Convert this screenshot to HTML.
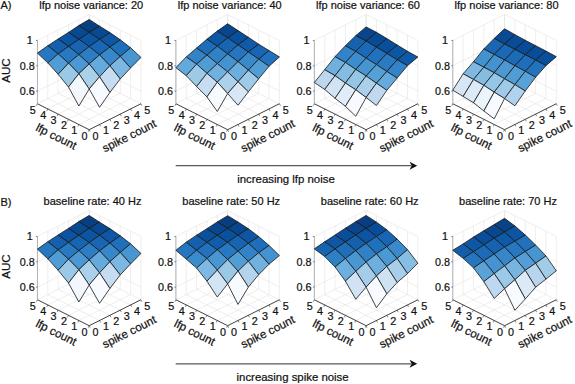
<!DOCTYPE html>
<html><head><meta charset="utf-8"><style>
html,body{margin:0;padding:0;background:#fff;}
svg{display:block;}
text{font-family:"Liberation Sans",sans-serif;fill:#111;stroke:#111;stroke-width:0.22px;}
.tk text{font-size:10.8px;}
.ti{font-size:11px;}
.al{font-size:11.6px;}
.ar{font-size:11.4px;}
</style></head><body>
<svg width="575" height="384" viewBox="0 0 575 384">
<path d="M89.2 129.7L140.95 103.75M89.2 129.7L37.45 103.75M78.85 124.51L130.6 98.56M99.55 124.51L47.8 98.56M68.5 119.32L120.25 93.37M109.9 119.32L58.15 93.37M58.15 114.13L109.9 88.18M120.25 114.13L68.5 88.18M47.8 108.94L99.55 82.99M130.6 108.94L78.85 82.99M37.45 103.75L89.2 77.8M140.95 103.75L89.2 77.8M37.45 103.75L37.45 40.45M140.95 103.75L140.95 40.45M47.8 98.56L47.8 35.26M130.6 98.56L130.6 35.26M58.15 93.37L58.15 30.07M120.25 93.37L120.25 30.07M68.5 88.18L68.5 24.88M109.9 88.18L109.9 24.88M78.85 82.99L78.85 19.69M99.55 82.99L99.55 19.69M89.2 77.8L89.2 14.5M89.2 77.8L89.2 14.5M37.45 91.09L89.2 65.14L140.95 91.09M37.45 65.77L89.2 39.82L140.95 65.77M37.45 40.45L89.2 14.5L140.95 40.45" stroke="#e3e3e3" stroke-width="0.6" fill="none"/>
<path d="M37.45 103.75L89.2 129.7L140.95 103.75" stroke="#333" stroke-width="0.9" fill="none"/>
<path d="M37.45 103.75L37.45 40.45" stroke="#aaa" stroke-width="0.9" fill="none"/>
<path d="M89.2 129.7l-1 2M89.2 129.7l1 2M78.85 124.51l-1 2M99.55 124.51l1 2M68.5 119.32l-1 2M109.9 119.32l1 2M58.15 114.13l-1 2M120.25 114.13l1 2M47.8 108.94l-1 2M130.6 108.94l1 2M37.45 103.75l-1 2M140.95 103.75l1 2M37.45 91.09l-1.5 0M37.45 65.77l-1.5 0M37.45 40.45l-1.5 0" stroke="#333" stroke-width="0.6" fill="none"/>
<path d="M89.2 32.38L78.85 25.55L89.2 19.44L99.55 26.15Z" fill="rgb(8, 63, 131)" stroke="#161616" stroke-width="0.8" stroke-linejoin="round"/>
<path d="M99.55 39.28L89.2 32.38L99.55 26.15L109.9 32.6Z" fill="rgb(8, 73, 146)" stroke="#161616" stroke-width="0.8" stroke-linejoin="round"/>
<path d="M78.85 39.32L68.5 32.4L78.85 25.55L89.2 32.38Z" fill="rgb(8, 73, 146)" stroke="#161616" stroke-width="0.8" stroke-linejoin="round"/>
<path d="M109.9 47.04L99.55 39.28L109.9 32.6L120.25 39.82Z" fill="rgb(13, 87, 165)" stroke="#161616" stroke-width="0.8" stroke-linejoin="round"/>
<path d="M89.2 46.61L78.85 39.32L89.2 32.38L99.55 39.28Z" fill="rgb(11, 85, 163)" stroke="#161616" stroke-width="0.8" stroke-linejoin="round"/>
<path d="M68.5 46.41L58.15 39L68.5 32.4L78.85 39.32Z" fill="rgb(11, 84, 161)" stroke="#161616" stroke-width="0.8" stroke-linejoin="round"/>
<path d="M120.25 56.47L109.9 47.04L120.25 39.82L130.6 47.79Z" fill="rgb(31, 112, 187)" stroke="#161616" stroke-width="0.8" stroke-linejoin="round"/>
<path d="M99.55 54.89L89.2 46.61L99.55 39.28L109.9 47.04Z" fill="rgb(24, 102, 180)" stroke="#161616" stroke-width="0.8" stroke-linejoin="round"/>
<path d="M78.85 54.59L68.5 46.41L78.85 39.32L89.2 46.61Z" fill="rgb(23, 101, 178)" stroke="#161616" stroke-width="0.8" stroke-linejoin="round"/>
<path d="M58.15 53.85L47.8 45.7L58.15 39L68.5 46.41Z" fill="rgb(20, 96, 174)" stroke="#161616" stroke-width="0.8" stroke-linejoin="round"/>
<path d="M130.6 67.92L120.25 56.47L130.6 47.79L140.95 57.41Z" fill="rgb(71, 149, 209)" stroke="#161616" stroke-width="0.8" stroke-linejoin="round"/>
<path d="M109.9 65.73L99.55 54.89L109.9 47.04L120.25 56.47Z" fill="rgb(55, 136, 202)" stroke="#161616" stroke-width="0.8" stroke-linejoin="round"/>
<path d="M89.2 63.89L78.85 54.59L89.2 46.61L99.55 54.89Z" fill="rgb(44, 125, 195)" stroke="#161616" stroke-width="0.8" stroke-linejoin="round"/>
<path d="M68.5 63.15L58.15 53.85L68.5 46.41L78.85 54.59Z" fill="rgb(40, 121, 193)" stroke="#161616" stroke-width="0.8" stroke-linejoin="round"/>
<path d="M47.8 62.86L37.45 53.11L47.8 45.7L58.15 53.85Z" fill="rgb(38, 119, 192)" stroke="#161616" stroke-width="0.8" stroke-linejoin="round"/>
<path d="M120.25 78.94L109.9 65.73L120.25 56.47L130.6 67.92Z" fill="rgb(123, 183, 225)" stroke="#161616" stroke-width="0.8" stroke-linejoin="round"/>
<path d="M99.55 76.84L89.2 63.89L99.55 54.89L109.9 65.73Z" fill="rgb(101, 170, 220)" stroke="#161616" stroke-width="0.8" stroke-linejoin="round"/>
<path d="M78.85 73.7L68.5 63.15L78.85 54.59L89.2 63.89Z" fill="rgb(75, 152, 211)" stroke="#161616" stroke-width="0.8" stroke-linejoin="round"/>
<path d="M58.15 74.25L47.8 62.86L58.15 53.85L68.5 63.15Z" fill="rgb(80, 156, 213)" stroke="#161616" stroke-width="0.8" stroke-linejoin="round"/>
<path d="M109.9 92.48L99.55 76.84L109.9 65.73L120.25 78.94Z" fill="rgb(198, 220, 241)" stroke="#161616" stroke-width="0.8" stroke-linejoin="round"/>
<path d="M89.2 89L78.85 73.7L89.2 63.89L99.55 76.84Z" fill="rgb(170, 208, 234)" stroke="#161616" stroke-width="0.8" stroke-linejoin="round"/>
<path d="M68.5 87.04L58.15 74.25L68.5 63.15L78.85 73.7Z" fill="rgb(153, 201, 230)" stroke="#161616" stroke-width="0.8" stroke-linejoin="round"/>
<path d="M99.55 107.29L89.2 89L99.55 76.84L109.9 92.48Z" fill="rgb(247, 251, 255)" stroke="#161616" stroke-width="0.8" stroke-linejoin="round"/>
<path d="M78.85 106.03L68.5 87.04L78.85 73.7L89.2 89Z" fill="rgb(241, 247, 253)" stroke="#161616" stroke-width="0.8" stroke-linejoin="round"/>
<g class="tk"><text x="84.6" y="139.5" text-anchor="middle">0</text><text x="95.6" y="139.5" text-anchor="middle">0</text><text x="74.25" y="134.31" text-anchor="middle">1</text><text x="105.95" y="134.31" text-anchor="middle">1</text><text x="63.9" y="129.12" text-anchor="middle">2</text><text x="116.3" y="129.12" text-anchor="middle">2</text><text x="53.55" y="123.93" text-anchor="middle">3</text><text x="126.65" y="123.93" text-anchor="middle">3</text><text x="43.2" y="118.74" text-anchor="middle">4</text><text x="137" y="118.74" text-anchor="middle">4</text><text x="32.85" y="113.55" text-anchor="middle">5</text><text x="147.35" y="113.55" text-anchor="middle">5</text><text x="34.65" y="94.89" text-anchor="end">0.6</text><text x="34.65" y="69.57" text-anchor="end">0.8</text><text x="32.65" y="44.25" text-anchor="end">1</text></g>
<text class="al" transform="translate(56.2 136.6) rotate(26.6)" x="0" y="3.8" text-anchor="middle">lfp count</text>
<text class="al" transform="translate(129.3 135.9) rotate(-26.6)" x="0" y="3.8" text-anchor="middle">spike count</text>
<text class="ti" x="91.25" y="9.4" text-anchor="middle">lfp noise variance: 20</text>
<path d="M227.65 129.7L279.4 103.75M227.65 129.7L175.9 103.75M217.3 124.51L269.05 98.56M238 124.51L186.25 98.56M206.95 119.32L258.7 93.37M248.35 119.32L196.6 93.37M196.6 114.13L248.35 88.18M258.7 114.13L206.95 88.18M186.25 108.94L238 82.99M269.05 108.94L217.3 82.99M175.9 103.75L227.65 77.8M279.4 103.75L227.65 77.8M175.9 103.75L175.9 40.45M279.4 103.75L279.4 40.45M186.25 98.56L186.25 35.26M269.05 98.56L269.05 35.26M196.6 93.37L196.6 30.07M258.7 93.37L258.7 30.07M206.95 88.18L206.95 24.88M248.35 88.18L248.35 24.88M217.3 82.99L217.3 19.69M238 82.99L238 19.69M227.65 77.8L227.65 14.5M227.65 77.8L227.65 14.5M175.9 91.09L227.65 65.14L279.4 91.09M175.9 65.77L227.65 39.82L279.4 65.77M175.9 40.45L227.65 14.5L279.4 40.45" stroke="#e3e3e3" stroke-width="0.6" fill="none"/>
<path d="M175.9 103.75L227.65 129.7L279.4 103.75" stroke="#333" stroke-width="0.9" fill="none"/>
<path d="M175.9 103.75L175.9 40.45" stroke="#aaa" stroke-width="0.9" fill="none"/>
<path d="M227.65 129.7l-1 2M227.65 129.7l1 2M217.3 124.51l-1 2M238 124.51l1 2M206.95 119.32l-1 2M248.35 119.32l1 2M196.6 114.13l-1 2M258.7 114.13l1 2M186.25 108.94l-1 2M269.05 108.94l1 2M175.9 103.75l-1 2M279.4 103.75l1 2M175.9 91.09l-1.5 0M175.9 65.77l-1.5 0M175.9 40.45l-1.5 0" stroke="#333" stroke-width="0.6" fill="none"/>
<path d="M227.65 37.82L217.3 31.08L227.65 23.74L238 30.58Z" fill="rgb(8, 70, 141)" stroke="#161616" stroke-width="0.8" stroke-linejoin="round"/>
<path d="M238 44.83L227.65 37.82L238 30.58L248.35 37.29Z" fill="rgb(8, 80, 158)" stroke="#161616" stroke-width="0.8" stroke-linejoin="round"/>
<path d="M217.3 46.12L206.95 39.19L217.3 31.08L227.65 37.82Z" fill="rgb(13, 87, 165)" stroke="#161616" stroke-width="0.8" stroke-linejoin="round"/>
<path d="M248.35 51.97L238 44.83L248.35 37.29L258.7 44.25Z" fill="rgb(16, 91, 169)" stroke="#161616" stroke-width="0.8" stroke-linejoin="round"/>
<path d="M227.65 53.89L217.3 46.12L227.65 37.82L238 44.83Z" fill="rgb(24, 102, 179)" stroke="#161616" stroke-width="0.8" stroke-linejoin="round"/>
<path d="M206.95 55.1L196.6 48.05L206.95 39.19L217.3 46.12Z" fill="rgb(29, 109, 186)" stroke="#161616" stroke-width="0.8" stroke-linejoin="round"/>
<path d="M258.7 59.1L248.35 51.97L258.7 44.25L269.05 50.58Z" fill="rgb(24, 102, 179)" stroke="#161616" stroke-width="0.8" stroke-linejoin="round"/>
<path d="M238 61.64L227.65 53.89L238 44.83L248.35 51.97Z" fill="rgb(37, 117, 191)" stroke="#161616" stroke-width="0.8" stroke-linejoin="round"/>
<path d="M217.3 63.58L206.95 55.1L217.3 46.12L227.65 53.89Z" fill="rgb(48, 129, 198)" stroke="#161616" stroke-width="0.8" stroke-linejoin="round"/>
<path d="M196.6 64.12L186.25 56.91L196.6 48.05L206.95 55.1Z" fill="rgb(51, 132, 199)" stroke="#161616" stroke-width="0.8" stroke-linejoin="round"/>
<path d="M269.05 66.28L258.7 59.1L269.05 50.58L279.4 56.91Z" fill="rgb(33, 114, 189)" stroke="#161616" stroke-width="0.8" stroke-linejoin="round"/>
<path d="M248.35 70.18L238 61.64L248.35 51.97L258.7 59.1Z" fill="rgb(56, 138, 203)" stroke="#161616" stroke-width="0.8" stroke-linejoin="round"/>
<path d="M227.65 71.86L217.3 63.58L227.65 53.89L238 61.64Z" fill="rgb(68, 147, 208)" stroke="#161616" stroke-width="0.8" stroke-linejoin="round"/>
<path d="M206.95 73.33L196.6 64.12L206.95 55.1L217.3 63.58Z" fill="rgb(80, 156, 213)" stroke="#161616" stroke-width="0.8" stroke-linejoin="round"/>
<path d="M186.25 75.64L175.9 67.67L186.25 56.91L196.6 64.12Z" fill="rgb(98, 169, 220)" stroke="#161616" stroke-width="0.8" stroke-linejoin="round"/>
<path d="M258.7 78.81L248.35 70.18L258.7 59.1L269.05 66.28Z" fill="rgb(82, 157, 214)" stroke="#161616" stroke-width="0.8" stroke-linejoin="round"/>
<path d="M238 81.76L227.65 71.86L238 61.64L248.35 70.18Z" fill="rgb(108, 175, 222)" stroke="#161616" stroke-width="0.8" stroke-linejoin="round"/>
<path d="M217.3 82.19L206.95 73.33L217.3 63.58L227.65 71.86Z" fill="rgb(112, 177, 223)" stroke="#161616" stroke-width="0.8" stroke-linejoin="round"/>
<path d="M196.6 86.53L186.25 75.64L196.6 64.12L206.95 73.33Z" fill="rgb(157, 202, 231)" stroke="#161616" stroke-width="0.8" stroke-linejoin="round"/>
<path d="M248.35 91.85L238 81.76L248.35 70.18L258.7 78.81Z" fill="rgb(158, 203, 232)" stroke="#161616" stroke-width="0.8" stroke-linejoin="round"/>
<path d="M227.65 93.54L217.3 82.19L227.65 71.86L238 81.76Z" fill="rgb(173, 209, 235)" stroke="#161616" stroke-width="0.8" stroke-linejoin="round"/>
<path d="M206.95 96.91L196.6 86.53L206.95 73.33L217.3 82.19Z" fill="rgb(199, 221, 241)" stroke="#161616" stroke-width="0.8" stroke-linejoin="round"/>
<path d="M238 105.27L227.65 93.54L238 81.76L248.35 91.85Z" fill="rgb(216, 231, 245)" stroke="#161616" stroke-width="0.8" stroke-linejoin="round"/>
<path d="M217.3 111.47L206.95 96.91L217.3 82.19L227.65 93.54Z" fill="rgb(247, 251, 255)" stroke="#161616" stroke-width="0.8" stroke-linejoin="round"/>
<g class="tk"><text x="223.05" y="139.5" text-anchor="middle">0</text><text x="234.05" y="139.5" text-anchor="middle">0</text><text x="212.7" y="134.31" text-anchor="middle">1</text><text x="244.4" y="134.31" text-anchor="middle">1</text><text x="202.35" y="129.12" text-anchor="middle">2</text><text x="254.75" y="129.12" text-anchor="middle">2</text><text x="192" y="123.93" text-anchor="middle">3</text><text x="265.1" y="123.93" text-anchor="middle">3</text><text x="181.65" y="118.74" text-anchor="middle">4</text><text x="275.45" y="118.74" text-anchor="middle">4</text><text x="171.3" y="113.55" text-anchor="middle">5</text><text x="285.8" y="113.55" text-anchor="middle">5</text><text x="173.1" y="94.89" text-anchor="end">0.6</text><text x="173.1" y="69.57" text-anchor="end">0.8</text><text x="171.1" y="44.25" text-anchor="end">1</text></g>
<text class="al" transform="translate(194.65 136.6) rotate(26.6)" x="0" y="3.8" text-anchor="middle">lfp count</text>
<text class="al" transform="translate(267.75 135.9) rotate(-26.6)" x="0" y="3.8" text-anchor="middle">spike count</text>
<text class="ti" x="229.75" y="9.4" text-anchor="middle">lfp noise variance: 40</text>
<path d="M366.1 129.7L417.85 103.75M366.1 129.7L314.35 103.75M355.75 124.51L407.5 98.56M376.45 124.51L324.7 98.56M345.4 119.32L397.15 93.37M386.8 119.32L335.05 93.37M335.05 114.13L386.8 88.18M397.15 114.13L345.4 88.18M324.7 108.94L376.45 82.99M407.5 108.94L355.75 82.99M314.35 103.75L366.1 77.8M417.85 103.75L366.1 77.8M314.35 103.75L314.35 40.45M417.85 103.75L417.85 40.45M324.7 98.56L324.7 35.26M407.5 98.56L407.5 35.26M335.05 93.37L335.05 30.07M397.15 93.37L397.15 30.07M345.4 88.18L345.4 24.88M386.8 88.18L386.8 24.88M355.75 82.99L355.75 19.69M376.45 82.99L376.45 19.69M366.1 77.8L366.1 14.5M366.1 77.8L366.1 14.5M314.35 91.09L366.1 65.14L417.85 91.09M314.35 65.77L366.1 39.82L417.85 65.77M314.35 40.45L366.1 14.5L417.85 40.45" stroke="#e3e3e3" stroke-width="0.6" fill="none"/>
<path d="M314.35 103.75L366.1 129.7L417.85 103.75" stroke="#333" stroke-width="0.9" fill="none"/>
<path d="M314.35 103.75L314.35 40.45" stroke="#aaa" stroke-width="0.9" fill="none"/>
<path d="M366.1 129.7l-1 2M366.1 129.7l1 2M355.75 124.51l-1 2M376.45 124.51l1 2M345.4 119.32l-1 2M386.8 119.32l1 2M335.05 114.13l-1 2M397.15 114.13l1 2M324.7 108.94l-1 2M407.5 108.94l1 2M314.35 103.75l-1 2M417.85 103.75l1 2M314.35 91.09l-1.5 0M314.35 65.77l-1.5 0M314.35 40.45l-1.5 0" stroke="#333" stroke-width="0.6" fill="none"/>
<path d="M366.1 41.01L355.75 35.64L366.1 26.91L376.45 32.35Z" fill="rgb(8, 69, 140)" stroke="#161616" stroke-width="0.8" stroke-linejoin="round"/>
<path d="M376.45 47.19L366.1 41.01L376.45 32.35L386.8 38.55Z" fill="rgb(8, 74, 149)" stroke="#161616" stroke-width="0.8" stroke-linejoin="round"/>
<path d="M355.75 51.46L345.4 45.77L355.75 35.64L366.1 41.01Z" fill="rgb(21, 98, 175)" stroke="#161616" stroke-width="0.8" stroke-linejoin="round"/>
<path d="M386.8 53.46L376.45 47.19L386.8 38.55L397.15 45.01Z" fill="rgb(8, 80, 158)" stroke="#161616" stroke-width="0.8" stroke-linejoin="round"/>
<path d="M366.1 58.11L355.75 51.46L366.1 41.01L376.45 47.19Z" fill="rgb(27, 106, 183)" stroke="#161616" stroke-width="0.8" stroke-linejoin="round"/>
<path d="M345.4 62.48L335.05 56.66L345.4 45.77L355.75 51.46Z" fill="rgb(50, 131, 199)" stroke="#161616" stroke-width="0.8" stroke-linejoin="round"/>
<path d="M397.15 59.78L386.8 53.46L397.15 45.01L407.5 51.34Z" fill="rgb(12, 86, 164)" stroke="#161616" stroke-width="0.8" stroke-linejoin="round"/>
<path d="M376.45 64.62L366.1 58.11L376.45 47.19L386.8 53.46Z" fill="rgb(33, 113, 188)" stroke="#161616" stroke-width="0.8" stroke-linejoin="round"/>
<path d="M355.75 69.41L345.4 62.48L355.75 51.46L366.1 58.11Z" fill="rgb(60, 141, 205)" stroke="#161616" stroke-width="0.8" stroke-linejoin="round"/>
<path d="M335.05 75.68L324.7 69.7L335.05 56.66L345.4 62.48Z" fill="rgb(111, 176, 222)" stroke="#161616" stroke-width="0.8" stroke-linejoin="round"/>
<path d="M407.5 65.64L397.15 59.78L407.5 51.34L417.85 57.03Z" fill="rgb(15, 90, 168)" stroke="#161616" stroke-width="0.8" stroke-linejoin="round"/>
<path d="M386.8 71.46L376.45 64.62L386.8 53.46L397.15 59.78Z" fill="rgb(42, 123, 194)" stroke="#161616" stroke-width="0.8" stroke-linejoin="round"/>
<path d="M366.1 75.99L355.75 69.41L366.1 58.11L376.45 64.62Z" fill="rgb(70, 149, 209)" stroke="#161616" stroke-width="0.8" stroke-linejoin="round"/>
<path d="M345.4 83.03L335.05 75.68L345.4 62.48L355.75 69.41Z" fill="rgb(133, 189, 226)" stroke="#161616" stroke-width="0.8" stroke-linejoin="round"/>
<path d="M324.7 89.44L314.35 82.48L324.7 69.7L335.05 75.68Z" fill="rgb(189, 215, 239)" stroke="#161616" stroke-width="0.8" stroke-linejoin="round"/>
<path d="M397.15 78.05L386.8 71.46L397.15 59.78L407.5 65.64Z" fill="rgb(50, 131, 199)" stroke="#161616" stroke-width="0.8" stroke-linejoin="round"/>
<path d="M376.45 83.18L366.1 75.99L376.45 64.62L386.8 71.46Z" fill="rgb(85, 160, 215)" stroke="#161616" stroke-width="0.8" stroke-linejoin="round"/>
<path d="M355.75 89.77L345.4 83.03L355.75 69.41L366.1 75.99Z" fill="rgb(149, 198, 229)" stroke="#161616" stroke-width="0.8" stroke-linejoin="round"/>
<path d="M335.05 98.3L324.7 89.44L335.05 75.68L345.4 83.03Z" fill="rgb(210, 227, 244)" stroke="#161616" stroke-width="0.8" stroke-linejoin="round"/>
<path d="M386.8 90.33L376.45 83.18L386.8 71.46L397.15 78.05Z" fill="rgb(101, 171, 221)" stroke="#161616" stroke-width="0.8" stroke-linejoin="round"/>
<path d="M366.1 97.51L355.75 89.77L366.1 75.99L376.45 83.18Z" fill="rgb(170, 208, 234)" stroke="#161616" stroke-width="0.8" stroke-linejoin="round"/>
<path d="M345.4 106.28L335.05 98.3L345.4 83.03L355.75 89.77Z" fill="rgb(224, 236, 248)" stroke="#161616" stroke-width="0.8" stroke-linejoin="round"/>
<path d="M376.45 105.52L366.1 97.51L376.45 83.18L386.8 90.33Z" fill="rgb(193, 217, 240)" stroke="#161616" stroke-width="0.8" stroke-linejoin="round"/>
<path d="M355.75 116.28L345.4 106.28L355.75 89.77L366.1 97.51Z" fill="rgb(247, 251, 255)" stroke="#161616" stroke-width="0.8" stroke-linejoin="round"/>
<g class="tk"><text x="361.5" y="139.5" text-anchor="middle">0</text><text x="372.5" y="139.5" text-anchor="middle">0</text><text x="351.15" y="134.31" text-anchor="middle">1</text><text x="382.85" y="134.31" text-anchor="middle">1</text><text x="340.8" y="129.12" text-anchor="middle">2</text><text x="393.2" y="129.12" text-anchor="middle">2</text><text x="330.45" y="123.93" text-anchor="middle">3</text><text x="403.55" y="123.93" text-anchor="middle">3</text><text x="320.1" y="118.74" text-anchor="middle">4</text><text x="413.9" y="118.74" text-anchor="middle">4</text><text x="309.75" y="113.55" text-anchor="middle">5</text><text x="424.25" y="113.55" text-anchor="middle">5</text><text x="311.55" y="94.89" text-anchor="end">0.6</text><text x="311.55" y="69.57" text-anchor="end">0.8</text><text x="309.55" y="44.25" text-anchor="end">1</text></g>
<text class="al" transform="translate(333.1 136.6) rotate(26.6)" x="0" y="3.8" text-anchor="middle">lfp count</text>
<text class="al" transform="translate(406.2 135.9) rotate(-26.6)" x="0" y="3.8" text-anchor="middle">spike count</text>
<text class="ti" x="368" y="9.4" text-anchor="middle">lfp noise variance: 60</text>
<path d="M504.55 129.7L556.3 103.75M504.55 129.7L452.8 103.75M494.2 124.51L545.95 98.56M514.9 124.51L463.15 98.56M483.85 119.32L535.6 93.37M525.25 119.32L473.5 93.37M473.5 114.13L525.25 88.18M535.6 114.13L483.85 88.18M463.15 108.94L514.9 82.99M545.95 108.94L494.2 82.99M452.8 103.75L504.55 77.8M556.3 103.75L504.55 77.8M452.8 103.75L452.8 40.45M556.3 103.75L556.3 40.45M463.15 98.56L463.15 35.26M545.95 98.56L545.95 35.26M473.5 93.37L473.5 30.07M535.6 93.37L535.6 30.07M483.85 88.18L483.85 24.88M525.25 88.18L525.25 24.88M494.2 82.99L494.2 19.69M514.9 82.99L514.9 19.69M504.55 77.8L504.55 14.5M504.55 77.8L504.55 14.5M452.8 91.09L504.55 65.14L556.3 91.09M452.8 65.77L504.55 39.82L556.3 65.77M452.8 40.45L504.55 14.5L556.3 40.45" stroke="#e3e3e3" stroke-width="0.6" fill="none"/>
<path d="M452.8 103.75L504.55 129.7L556.3 103.75" stroke="#333" stroke-width="0.9" fill="none"/>
<path d="M452.8 103.75L452.8 40.45" stroke="#aaa" stroke-width="0.9" fill="none"/>
<path d="M504.55 129.7l-1 2M504.55 129.7l1 2M494.2 124.51l-1 2M514.9 124.51l1 2M483.85 119.32l-1 2M525.25 119.32l1 2M473.5 114.13l-1 2M535.6 114.13l1 2M463.15 108.94l-1 2M545.95 108.94l1 2M452.8 103.75l-1 2M556.3 103.75l1 2M452.8 91.09l-1.5 0M452.8 65.77l-1.5 0M452.8 40.45l-1.5 0" stroke="#333" stroke-width="0.6" fill="none"/>
<path d="M504.55 43.96L494.2 38.43L504.55 28.81L514.9 34.63Z" fill="rgb(8, 74, 148)" stroke="#161616" stroke-width="0.8" stroke-linejoin="round"/>
<path d="M514.9 49.4L504.55 43.96L514.9 34.63L525.25 40.33Z" fill="rgb(8, 76, 151)" stroke="#161616" stroke-width="0.8" stroke-linejoin="round"/>
<path d="M494.2 54.49L483.85 48.93L494.2 38.43L504.55 43.96Z" fill="rgb(25, 103, 180)" stroke="#161616" stroke-width="0.8" stroke-linejoin="round"/>
<path d="M525.25 54.72L514.9 49.4L525.25 40.33L535.6 45.64Z" fill="rgb(8, 76, 152)" stroke="#161616" stroke-width="0.8" stroke-linejoin="round"/>
<path d="M504.55 60L494.2 54.49L504.55 43.96L514.9 49.4Z" fill="rgb(26, 105, 182)" stroke="#161616" stroke-width="0.8" stroke-linejoin="round"/>
<path d="M483.85 67.21L473.5 61.72L483.85 48.93L494.2 54.49Z" fill="rgb(66, 146, 207)" stroke="#161616" stroke-width="0.8" stroke-linejoin="round"/>
<path d="M535.6 60.08L525.25 54.72L535.6 45.64L545.95 51.08Z" fill="rgb(8, 77, 153)" stroke="#161616" stroke-width="0.8" stroke-linejoin="round"/>
<path d="M514.9 65.7L504.55 60L514.9 49.4L525.25 54.72Z" fill="rgb(28, 107, 185)" stroke="#161616" stroke-width="0.8" stroke-linejoin="round"/>
<path d="M494.2 72.7L483.85 67.21L494.2 54.49L504.55 60Z" fill="rgb(68, 147, 208)" stroke="#161616" stroke-width="0.8" stroke-linejoin="round"/>
<path d="M473.5 79.51L463.15 73.75L473.5 61.72L483.85 67.21Z" fill="rgb(127, 185, 225)" stroke="#161616" stroke-width="0.8" stroke-linejoin="round"/>
<path d="M545.95 65.64L535.6 60.08L545.95 51.08L556.3 56.65Z" fill="rgb(8, 79, 156)" stroke="#161616" stroke-width="0.8" stroke-linejoin="round"/>
<path d="M525.25 71.33L514.9 65.7L525.25 54.72L535.6 60.08Z" fill="rgb(30, 110, 187)" stroke="#161616" stroke-width="0.8" stroke-linejoin="round"/>
<path d="M504.55 78.76L494.2 72.7L504.55 60L514.9 65.7Z" fill="rgb(75, 152, 211)" stroke="#161616" stroke-width="0.8" stroke-linejoin="round"/>
<path d="M483.85 85.32L473.5 79.51L483.85 67.21L494.2 72.7Z" fill="rgb(133, 189, 226)" stroke="#161616" stroke-width="0.8" stroke-linejoin="round"/>
<path d="M463.15 96.41L452.8 90.2L463.15 73.75L473.5 79.51Z" fill="rgb(214, 230, 245)" stroke="#161616" stroke-width="0.8" stroke-linejoin="round"/>
<path d="M535.6 77.29L525.25 71.33L535.6 60.08L545.95 65.64Z" fill="rgb(34, 114, 189)" stroke="#161616" stroke-width="0.8" stroke-linejoin="round"/>
<path d="M514.9 84.62L504.55 78.76L514.9 65.7L525.25 71.33Z" fill="rgb(80, 156, 213)" stroke="#161616" stroke-width="0.8" stroke-linejoin="round"/>
<path d="M494.2 92.13L483.85 85.32L494.2 72.7L504.55 78.76Z" fill="rgb(149, 198, 230)" stroke="#161616" stroke-width="0.8" stroke-linejoin="round"/>
<path d="M473.5 102.74L463.15 96.41L473.5 79.51L483.85 85.32Z" fill="rgb(220, 234, 247)" stroke="#161616" stroke-width="0.8" stroke-linejoin="round"/>
<path d="M525.25 90.96L514.9 84.62L525.25 71.33L535.6 77.29Z" fill="rgb(88, 162, 216)" stroke="#161616" stroke-width="0.8" stroke-linejoin="round"/>
<path d="M504.55 98.6L494.2 92.13L504.55 78.76L514.9 84.62Z" fill="rgb(160, 203, 232)" stroke="#161616" stroke-width="0.8" stroke-linejoin="round"/>
<path d="M483.85 110.96L473.5 102.74L483.85 85.32L494.2 92.13Z" fill="rgb(235, 243, 251)" stroke="#161616" stroke-width="0.8" stroke-linejoin="round"/>
<path d="M514.9 105.77L504.55 98.6L514.9 84.62L525.25 90.96Z" fill="rgb(176, 210, 236)" stroke="#161616" stroke-width="0.8" stroke-linejoin="round"/>
<path d="M494.2 118.81L483.85 110.96L494.2 92.13L504.55 98.6Z" fill="rgb(247, 251, 255)" stroke="#161616" stroke-width="0.8" stroke-linejoin="round"/>
<g class="tk"><text x="499.95" y="139.5" text-anchor="middle">0</text><text x="510.95" y="139.5" text-anchor="middle">0</text><text x="489.6" y="134.31" text-anchor="middle">1</text><text x="521.3" y="134.31" text-anchor="middle">1</text><text x="479.25" y="129.12" text-anchor="middle">2</text><text x="531.65" y="129.12" text-anchor="middle">2</text><text x="468.9" y="123.93" text-anchor="middle">3</text><text x="542" y="123.93" text-anchor="middle">3</text><text x="458.55" y="118.74" text-anchor="middle">4</text><text x="552.35" y="118.74" text-anchor="middle">4</text><text x="448.2" y="113.55" text-anchor="middle">5</text><text x="562.7" y="113.55" text-anchor="middle">5</text><text x="450" y="94.89" text-anchor="end">0.6</text><text x="450" y="69.57" text-anchor="end">0.8</text><text x="448" y="44.25" text-anchor="end">1</text></g>
<text class="al" transform="translate(471.55 136.6) rotate(26.6)" x="0" y="3.8" text-anchor="middle">lfp count</text>
<text class="al" transform="translate(544.65 135.9) rotate(-26.6)" x="0" y="3.8" text-anchor="middle">spike count</text>
<text class="ti" x="506.6" y="9.4" text-anchor="middle">lfp noise variance: 80</text>
<text class="al" transform="translate(6.5 70.6) rotate(-90)" x="0" y="3.8" text-anchor="middle">AUC</text>
<path d="M89.2 325.7L140.95 299.75M89.2 325.7L37.45 299.75M78.85 320.51L130.6 294.56M99.55 320.51L47.8 294.56M68.5 315.32L120.25 289.37M109.9 315.32L58.15 289.37M58.15 310.13L109.9 284.18M120.25 310.13L68.5 284.18M47.8 304.94L99.55 278.99M130.6 304.94L78.85 278.99M37.45 299.75L89.2 273.8M140.95 299.75L89.2 273.8M37.45 299.75L37.45 236.45M140.95 299.75L140.95 236.45M47.8 294.56L47.8 231.26M130.6 294.56L130.6 231.26M58.15 289.37L58.15 226.07M120.25 289.37L120.25 226.07M68.5 284.18L68.5 220.88M109.9 284.18L109.9 220.88M78.85 278.99L78.85 215.69M99.55 278.99L99.55 215.69M89.2 273.8L89.2 210.5M89.2 273.8L89.2 210.5M37.45 287.09L89.2 261.14L140.95 287.09M37.45 261.77L89.2 235.82L140.95 261.77M37.45 236.45L89.2 210.5L140.95 236.45" stroke="#e3e3e3" stroke-width="0.6" fill="none"/>
<path d="M37.45 299.75L89.2 325.7L140.95 299.75" stroke="#333" stroke-width="0.9" fill="none"/>
<path d="M37.45 299.75L37.45 236.45" stroke="#aaa" stroke-width="0.9" fill="none"/>
<path d="M89.2 325.7l-1 2M89.2 325.7l1 2M78.85 320.51l-1 2M99.55 320.51l1 2M68.5 315.32l-1 2M109.9 315.32l1 2M58.15 310.13l-1 2M120.25 310.13l1 2M47.8 304.94l-1 2M130.6 304.94l1 2M37.45 299.75l-1 2M140.95 299.75l1 2M37.45 287.09l-1.5 0M37.45 261.77l-1.5 0M37.45 236.45l-1.5 0" stroke="#333" stroke-width="0.6" fill="none"/>
<path d="M89.2 228.38L78.85 221.55L89.2 215.44L99.55 222.15Z" fill="rgb(8, 63, 131)" stroke="#161616" stroke-width="0.8" stroke-linejoin="round"/>
<path d="M99.55 235.28L89.2 228.38L99.55 222.15L109.9 228.6Z" fill="rgb(8, 73, 146)" stroke="#161616" stroke-width="0.8" stroke-linejoin="round"/>
<path d="M78.85 235.32L68.5 228.4L78.85 221.55L89.2 228.38Z" fill="rgb(8, 73, 146)" stroke="#161616" stroke-width="0.8" stroke-linejoin="round"/>
<path d="M109.9 243.04L99.55 235.28L109.9 228.6L120.25 235.82Z" fill="rgb(13, 87, 165)" stroke="#161616" stroke-width="0.8" stroke-linejoin="round"/>
<path d="M89.2 242.61L78.85 235.32L89.2 228.38L99.55 235.28Z" fill="rgb(11, 85, 163)" stroke="#161616" stroke-width="0.8" stroke-linejoin="round"/>
<path d="M68.5 242.41L58.15 235L68.5 228.4L78.85 235.32Z" fill="rgb(11, 84, 161)" stroke="#161616" stroke-width="0.8" stroke-linejoin="round"/>
<path d="M120.25 252.47L109.9 243.04L120.25 235.82L130.6 243.79Z" fill="rgb(31, 112, 187)" stroke="#161616" stroke-width="0.8" stroke-linejoin="round"/>
<path d="M99.55 250.89L89.2 242.61L99.55 235.28L109.9 243.04Z" fill="rgb(24, 102, 180)" stroke="#161616" stroke-width="0.8" stroke-linejoin="round"/>
<path d="M78.85 250.59L68.5 242.41L78.85 235.32L89.2 242.61Z" fill="rgb(23, 101, 178)" stroke="#161616" stroke-width="0.8" stroke-linejoin="round"/>
<path d="M58.15 249.85L47.8 241.7L58.15 235L68.5 242.41Z" fill="rgb(20, 96, 174)" stroke="#161616" stroke-width="0.8" stroke-linejoin="round"/>
<path d="M130.6 263.92L120.25 252.47L130.6 243.79L140.95 253.41Z" fill="rgb(71, 149, 209)" stroke="#161616" stroke-width="0.8" stroke-linejoin="round"/>
<path d="M109.9 261.73L99.55 250.89L109.9 243.04L120.25 252.47Z" fill="rgb(55, 136, 202)" stroke="#161616" stroke-width="0.8" stroke-linejoin="round"/>
<path d="M89.2 259.89L78.85 250.59L89.2 242.61L99.55 250.89Z" fill="rgb(44, 125, 195)" stroke="#161616" stroke-width="0.8" stroke-linejoin="round"/>
<path d="M68.5 259.15L58.15 249.85L68.5 242.41L78.85 250.59Z" fill="rgb(40, 121, 193)" stroke="#161616" stroke-width="0.8" stroke-linejoin="round"/>
<path d="M47.8 258.86L37.45 249.11L47.8 241.7L58.15 249.85Z" fill="rgb(38, 119, 192)" stroke="#161616" stroke-width="0.8" stroke-linejoin="round"/>
<path d="M120.25 274.94L109.9 261.73L120.25 252.47L130.6 263.92Z" fill="rgb(123, 183, 225)" stroke="#161616" stroke-width="0.8" stroke-linejoin="round"/>
<path d="M99.55 272.84L89.2 259.89L99.55 250.89L109.9 261.73Z" fill="rgb(101, 170, 220)" stroke="#161616" stroke-width="0.8" stroke-linejoin="round"/>
<path d="M78.85 269.7L68.5 259.15L78.85 250.59L89.2 259.89Z" fill="rgb(75, 152, 211)" stroke="#161616" stroke-width="0.8" stroke-linejoin="round"/>
<path d="M58.15 270.25L47.8 258.86L58.15 249.85L68.5 259.15Z" fill="rgb(80, 156, 213)" stroke="#161616" stroke-width="0.8" stroke-linejoin="round"/>
<path d="M109.9 288.48L99.55 272.84L109.9 261.73L120.25 274.94Z" fill="rgb(198, 220, 241)" stroke="#161616" stroke-width="0.8" stroke-linejoin="round"/>
<path d="M89.2 285L78.85 269.7L89.2 259.89L99.55 272.84Z" fill="rgb(170, 208, 234)" stroke="#161616" stroke-width="0.8" stroke-linejoin="round"/>
<path d="M68.5 283.04L58.15 270.25L68.5 259.15L78.85 269.7Z" fill="rgb(153, 201, 230)" stroke="#161616" stroke-width="0.8" stroke-linejoin="round"/>
<path d="M99.55 303.29L89.2 285L99.55 272.84L109.9 288.48Z" fill="rgb(247, 251, 255)" stroke="#161616" stroke-width="0.8" stroke-linejoin="round"/>
<path d="M78.85 302.03L68.5 283.04L78.85 269.7L89.2 285Z" fill="rgb(241, 247, 253)" stroke="#161616" stroke-width="0.8" stroke-linejoin="round"/>
<g class="tk"><text x="84.6" y="335.5" text-anchor="middle">0</text><text x="95.6" y="335.5" text-anchor="middle">0</text><text x="74.25" y="330.31" text-anchor="middle">1</text><text x="105.95" y="330.31" text-anchor="middle">1</text><text x="63.9" y="325.12" text-anchor="middle">2</text><text x="116.3" y="325.12" text-anchor="middle">2</text><text x="53.55" y="319.93" text-anchor="middle">3</text><text x="126.65" y="319.93" text-anchor="middle">3</text><text x="43.2" y="314.74" text-anchor="middle">4</text><text x="137" y="314.74" text-anchor="middle">4</text><text x="32.85" y="309.55" text-anchor="middle">5</text><text x="147.35" y="309.55" text-anchor="middle">5</text><text x="34.65" y="290.89" text-anchor="end">0.6</text><text x="34.65" y="265.57" text-anchor="end">0.8</text><text x="32.65" y="240.25" text-anchor="end">1</text></g>
<text class="al" transform="translate(56.2 332.6) rotate(26.6)" x="0" y="3.8" text-anchor="middle">lfp count</text>
<text class="al" transform="translate(129.3 331.9) rotate(-26.6)" x="0" y="3.8" text-anchor="middle">spike count</text>
<text class="ti" x="92.5" y="205.4" text-anchor="middle">baseline rate: 40 Hz</text>
<path d="M227.65 325.7L279.4 299.75M227.65 325.7L175.9 299.75M217.3 320.51L269.05 294.56M238 320.51L186.25 294.56M206.95 315.32L258.7 289.37M248.35 315.32L196.6 289.37M196.6 310.13L248.35 284.18M258.7 310.13L206.95 284.18M186.25 304.94L238 278.99M269.05 304.94L217.3 278.99M175.9 299.75L227.65 273.8M279.4 299.75L227.65 273.8M175.9 299.75L175.9 236.45M279.4 299.75L279.4 236.45M186.25 294.56L186.25 231.26M269.05 294.56L269.05 231.26M196.6 289.37L196.6 226.07M258.7 289.37L258.7 226.07M206.95 284.18L206.95 220.88M248.35 284.18L248.35 220.88M217.3 278.99L217.3 215.69M238 278.99L238 215.69M227.65 273.8L227.65 210.5M227.65 273.8L227.65 210.5M175.9 287.09L227.65 261.14L279.4 287.09M175.9 261.77L227.65 235.82L279.4 261.77M175.9 236.45L227.65 210.5L279.4 236.45" stroke="#e3e3e3" stroke-width="0.6" fill="none"/>
<path d="M175.9 299.75L227.65 325.7L279.4 299.75" stroke="#333" stroke-width="0.9" fill="none"/>
<path d="M175.9 299.75L175.9 236.45" stroke="#aaa" stroke-width="0.9" fill="none"/>
<path d="M227.65 325.7l-1 2M227.65 325.7l1 2M217.3 320.51l-1 2M238 320.51l1 2M206.95 315.32l-1 2M248.35 315.32l1 2M196.6 310.13l-1 2M258.7 310.13l1 2M186.25 304.94l-1 2M269.05 304.94l1 2M175.9 299.75l-1 2M279.4 299.75l1 2M175.9 287.09l-1.5 0M175.9 261.77l-1.5 0M175.9 236.45l-1.5 0" stroke="#333" stroke-width="0.6" fill="none"/>
<path d="M227.65 228.34L217.3 221.89L227.65 215.69L238 222.02Z" fill="rgb(8, 61, 128)" stroke="#161616" stroke-width="0.8" stroke-linejoin="round"/>
<path d="M238 235.11L227.65 228.34L238 222.02L248.35 228.73Z" fill="rgb(8, 70, 142)" stroke="#161616" stroke-width="0.8" stroke-linejoin="round"/>
<path d="M217.3 235.39L206.95 228.73L217.3 221.89L227.65 228.34Z" fill="rgb(8, 71, 144)" stroke="#161616" stroke-width="0.8" stroke-linejoin="round"/>
<path d="M248.35 243.32L238 235.11L248.35 228.73L258.7 236.58Z" fill="rgb(13, 86, 164)" stroke="#161616" stroke-width="0.8" stroke-linejoin="round"/>
<path d="M227.65 242.32L217.3 235.39L227.65 228.34L238 235.11Z" fill="rgb(9, 81, 159)" stroke="#161616" stroke-width="0.8" stroke-linejoin="round"/>
<path d="M206.95 242.35L196.6 235.19L206.95 228.73L217.3 235.39Z" fill="rgb(9, 81, 159)" stroke="#161616" stroke-width="0.8" stroke-linejoin="round"/>
<path d="M258.7 252.71L248.35 243.32L258.7 236.58L269.05 245.44Z" fill="rgb(30, 110, 187)" stroke="#161616" stroke-width="0.8" stroke-linejoin="round"/>
<path d="M238 251.11L227.65 242.32L238 235.11L248.35 243.32Z" fill="rgb(23, 101, 178)" stroke="#161616" stroke-width="0.8" stroke-linejoin="round"/>
<path d="M217.3 249.75L206.95 242.35L217.3 235.39L227.65 242.32Z" fill="rgb(18, 93, 171)" stroke="#161616" stroke-width="0.8" stroke-linejoin="round"/>
<path d="M196.6 250.27L186.25 242.15L196.6 235.19L206.95 242.35Z" fill="rgb(20, 96, 174)" stroke="#161616" stroke-width="0.8" stroke-linejoin="round"/>
<path d="M269.05 264.17L258.7 252.71L269.05 245.44L279.4 255.57Z" fill="rgb(68, 147, 208)" stroke="#161616" stroke-width="0.8" stroke-linejoin="round"/>
<path d="M248.35 261.33L238 251.11L248.35 243.32L258.7 252.71Z" fill="rgb(49, 131, 199)" stroke="#161616" stroke-width="0.8" stroke-linejoin="round"/>
<path d="M227.65 259.54L217.3 249.75L227.65 242.32L238 251.11Z" fill="rgb(39, 120, 192)" stroke="#161616" stroke-width="0.8" stroke-linejoin="round"/>
<path d="M206.95 258.57L196.6 250.27L206.95 242.35L217.3 249.75Z" fill="rgb(34, 114, 189)" stroke="#161616" stroke-width="0.8" stroke-linejoin="round"/>
<path d="M186.25 259.11L175.9 250.25L186.25 242.15L196.6 250.27Z" fill="rgb(37, 117, 191)" stroke="#161616" stroke-width="0.8" stroke-linejoin="round"/>
<path d="M258.7 274.68L248.35 261.33L258.7 252.71L269.05 264.17Z" fill="rgb(112, 177, 223)" stroke="#161616" stroke-width="0.8" stroke-linejoin="round"/>
<path d="M238 271.09L227.65 259.54L238 251.11L248.35 261.33Z" fill="rgb(81, 157, 213)" stroke="#161616" stroke-width="0.8" stroke-linejoin="round"/>
<path d="M217.3 270.09L206.95 258.57L217.3 249.75L227.65 259.54Z" fill="rgb(73, 151, 210)" stroke="#161616" stroke-width="0.8" stroke-linejoin="round"/>
<path d="M196.6 268.1L186.25 259.11L196.6 250.27L206.95 258.57Z" fill="rgb(58, 140, 204)" stroke="#161616" stroke-width="0.8" stroke-linejoin="round"/>
<path d="M248.35 287.09L238 271.09L248.35 261.33L258.7 274.68Z" fill="rgb(180, 212, 237)" stroke="#161616" stroke-width="0.8" stroke-linejoin="round"/>
<path d="M227.65 283.9L217.3 270.09L227.65 259.54L238 271.09Z" fill="rgb(154, 201, 230)" stroke="#161616" stroke-width="0.8" stroke-linejoin="round"/>
<path d="M206.95 281.14L196.6 268.1L206.95 258.57L217.3 270.09Z" fill="rgb(126, 185, 225)" stroke="#161616" stroke-width="0.8" stroke-linejoin="round"/>
<path d="M238 304.43L227.65 283.9L238 271.09L248.35 287.09Z" fill="rgb(247, 251, 255)" stroke="#161616" stroke-width="0.8" stroke-linejoin="round"/>
<path d="M217.3 297.09L206.95 281.14L217.3 270.09L227.65 283.9Z" fill="rgb(211, 228, 244)" stroke="#161616" stroke-width="0.8" stroke-linejoin="round"/>
<g class="tk"><text x="223.05" y="335.5" text-anchor="middle">0</text><text x="234.05" y="335.5" text-anchor="middle">0</text><text x="212.7" y="330.31" text-anchor="middle">1</text><text x="244.4" y="330.31" text-anchor="middle">1</text><text x="202.35" y="325.12" text-anchor="middle">2</text><text x="254.75" y="325.12" text-anchor="middle">2</text><text x="192" y="319.93" text-anchor="middle">3</text><text x="265.1" y="319.93" text-anchor="middle">3</text><text x="181.65" y="314.74" text-anchor="middle">4</text><text x="275.45" y="314.74" text-anchor="middle">4</text><text x="171.3" y="309.55" text-anchor="middle">5</text><text x="285.8" y="309.55" text-anchor="middle">5</text><text x="173.1" y="290.89" text-anchor="end">0.6</text><text x="173.1" y="265.57" text-anchor="end">0.8</text><text x="171.1" y="240.25" text-anchor="end">1</text></g>
<text class="al" transform="translate(194.65 332.6) rotate(26.6)" x="0" y="3.8" text-anchor="middle">lfp count</text>
<text class="al" transform="translate(267.75 331.9) rotate(-26.6)" x="0" y="3.8" text-anchor="middle">spike count</text>
<text class="ti" x="231.2" y="205.4" text-anchor="middle">baseline rate: 50 Hz</text>
<path d="M366.1 325.7L417.85 299.75M366.1 325.7L314.35 299.75M355.75 320.51L407.5 294.56M376.45 320.51L324.7 294.56M345.4 315.32L397.15 289.37M386.8 315.32L335.05 289.37M335.05 310.13L386.8 284.18M397.15 310.13L345.4 284.18M324.7 304.94L376.45 278.99M407.5 304.94L355.75 278.99M314.35 299.75L366.1 273.8M417.85 299.75L366.1 273.8M314.35 299.75L314.35 236.45M417.85 299.75L417.85 236.45M324.7 294.56L324.7 231.26M407.5 294.56L407.5 231.26M335.05 289.37L335.05 226.07M397.15 289.37L397.15 226.07M345.4 284.18L345.4 220.88M386.8 284.18L386.8 220.88M355.75 278.99L355.75 215.69M376.45 278.99L376.45 215.69M366.1 273.8L366.1 210.5M366.1 273.8L366.1 210.5M314.35 287.09L366.1 261.14L417.85 287.09M314.35 261.77L366.1 235.82L417.85 261.77M314.35 236.45L366.1 210.5L417.85 236.45" stroke="#e3e3e3" stroke-width="0.6" fill="none"/>
<path d="M314.35 299.75L366.1 325.7L417.85 299.75" stroke="#333" stroke-width="0.9" fill="none"/>
<path d="M314.35 299.75L314.35 236.45" stroke="#aaa" stroke-width="0.9" fill="none"/>
<path d="M366.1 325.7l-1 2M366.1 325.7l1 2M355.75 320.51l-1 2M376.45 320.51l1 2M345.4 315.32l-1 2M386.8 315.32l1 2M335.05 310.13l-1 2M397.15 310.13l1 2M324.7 304.94l-1 2M407.5 304.94l1 2M314.35 299.75l-1 2M417.85 299.75l1 2M314.35 287.09l-1.5 0M314.35 261.77l-1.5 0M314.35 236.45l-1.5 0" stroke="#333" stroke-width="0.6" fill="none"/>
<path d="M366.1 228.47L355.75 221.64L366.1 215.44L376.45 222.15Z" fill="rgb(8, 62, 129)" stroke="#161616" stroke-width="0.8" stroke-linejoin="round"/>
<path d="M376.45 236.54L366.1 228.47L376.45 222.15L386.8 229.74Z" fill="rgb(8, 77, 153)" stroke="#161616" stroke-width="0.8" stroke-linejoin="round"/>
<path d="M355.75 234.99L345.4 228.22L355.75 221.64L366.1 228.47Z" fill="rgb(8, 69, 140)" stroke="#161616" stroke-width="0.8" stroke-linejoin="round"/>
<path d="M386.8 246.69L376.45 236.54L386.8 229.74L397.15 239.11Z" fill="rgb(24, 102, 179)" stroke="#161616" stroke-width="0.8" stroke-linejoin="round"/>
<path d="M366.1 243.27L355.75 234.99L366.1 228.47L376.45 236.54Z" fill="rgb(11, 85, 162)" stroke="#161616" stroke-width="0.8" stroke-linejoin="round"/>
<path d="M345.4 241.92L335.05 235.06L345.4 228.22L355.75 234.99Z" fill="rgb(8, 78, 154)" stroke="#161616" stroke-width="0.8" stroke-linejoin="round"/>
<path d="M397.15 258.47L386.8 246.69L397.15 239.11L407.5 249.62Z" fill="rgb(56, 138, 203)" stroke="#161616" stroke-width="0.8" stroke-linejoin="round"/>
<path d="M376.45 253.86L366.1 243.27L376.45 236.54L386.8 246.69Z" fill="rgb(32, 113, 188)" stroke="#161616" stroke-width="0.8" stroke-linejoin="round"/>
<path d="M355.75 250.66L345.4 241.92L355.75 234.99L366.1 243.27Z" fill="rgb(20, 96, 173)" stroke="#161616" stroke-width="0.8" stroke-linejoin="round"/>
<path d="M335.05 248.97L324.7 241.77L335.05 235.06L345.4 241.92Z" fill="rgb(13, 87, 165)" stroke="#161616" stroke-width="0.8" stroke-linejoin="round"/>
<path d="M407.5 273.54L397.15 258.47L407.5 249.62L417.85 263.16Z" fill="rgb(135, 190, 227)" stroke="#161616" stroke-width="0.8" stroke-linejoin="round"/>
<path d="M386.8 266.45L376.45 253.86L386.8 246.69L397.15 258.47Z" fill="rgb(75, 153, 211)" stroke="#161616" stroke-width="0.8" stroke-linejoin="round"/>
<path d="M366.1 262.08L355.75 250.66L366.1 243.27L376.45 253.86Z" fill="rgb(48, 129, 198)" stroke="#161616" stroke-width="0.8" stroke-linejoin="round"/>
<path d="M345.4 258.55L335.05 248.97L345.4 241.92L355.75 250.66Z" fill="rgb(30, 110, 186)" stroke="#161616" stroke-width="0.8" stroke-linejoin="round"/>
<path d="M324.7 256.45L314.35 248.86L324.7 241.77L335.05 248.97Z" fill="rgb(22, 99, 176)" stroke="#161616" stroke-width="0.8" stroke-linejoin="round"/>
<path d="M397.15 282.53L386.8 266.45L397.15 258.47L407.5 273.54Z" fill="rgb(168, 207, 234)" stroke="#161616" stroke-width="0.8" stroke-linejoin="round"/>
<path d="M376.45 276L366.1 262.08L376.45 253.86L386.8 266.45Z" fill="rgb(109, 175, 222)" stroke="#161616" stroke-width="0.8" stroke-linejoin="round"/>
<path d="M355.75 271.26L345.4 258.55L355.75 250.66L366.1 262.08Z" fill="rgb(73, 151, 210)" stroke="#161616" stroke-width="0.8" stroke-linejoin="round"/>
<path d="M335.05 266.96L324.7 256.45L335.05 248.97L345.4 258.55Z" fill="rgb(46, 128, 197)" stroke="#161616" stroke-width="0.8" stroke-linejoin="round"/>
<path d="M386.8 293.8L376.45 276L386.8 266.45L397.15 282.53Z" fill="rgb(207, 226, 243)" stroke="#161616" stroke-width="0.8" stroke-linejoin="round"/>
<path d="M366.1 287.13L355.75 271.26L366.1 262.08L376.45 276Z" fill="rgb(163, 205, 233)" stroke="#161616" stroke-width="0.8" stroke-linejoin="round"/>
<path d="M345.4 281.14L335.05 266.96L345.4 258.55L355.75 271.26Z" fill="rgb(109, 175, 222)" stroke="#161616" stroke-width="0.8" stroke-linejoin="round"/>
<path d="M376.45 307.72L366.1 287.13L376.45 276L386.8 293.8Z" fill="rgb(247, 251, 255)" stroke="#161616" stroke-width="0.8" stroke-linejoin="round"/>
<path d="M355.75 299.24L345.4 281.14L355.75 271.26L366.1 287.13Z" fill="rgb(208, 226, 243)" stroke="#161616" stroke-width="0.8" stroke-linejoin="round"/>
<g class="tk"><text x="361.5" y="335.5" text-anchor="middle">0</text><text x="372.5" y="335.5" text-anchor="middle">0</text><text x="351.15" y="330.31" text-anchor="middle">1</text><text x="382.85" y="330.31" text-anchor="middle">1</text><text x="340.8" y="325.12" text-anchor="middle">2</text><text x="393.2" y="325.12" text-anchor="middle">2</text><text x="330.45" y="319.93" text-anchor="middle">3</text><text x="403.55" y="319.93" text-anchor="middle">3</text><text x="320.1" y="314.74" text-anchor="middle">4</text><text x="413.9" y="314.74" text-anchor="middle">4</text><text x="309.75" y="309.55" text-anchor="middle">5</text><text x="424.25" y="309.55" text-anchor="middle">5</text><text x="311.55" y="290.89" text-anchor="end">0.6</text><text x="311.55" y="265.57" text-anchor="end">0.8</text><text x="309.55" y="240.25" text-anchor="end">1</text></g>
<text class="al" transform="translate(333.1 332.6) rotate(26.6)" x="0" y="3.8" text-anchor="middle">lfp count</text>
<text class="al" transform="translate(406.2 331.9) rotate(-26.6)" x="0" y="3.8" text-anchor="middle">spike count</text>
<text class="ti" x="369.7" y="205.4" text-anchor="middle">baseline rate: 60 Hz</text>
<path d="M504.55 325.7L556.3 299.75M504.55 325.7L452.8 299.75M494.2 320.51L545.95 294.56M514.9 320.51L463.15 294.56M483.85 315.32L535.6 289.37M525.25 315.32L473.5 289.37M473.5 310.13L525.25 284.18M535.6 310.13L483.85 284.18M463.15 304.94L514.9 278.99M545.95 304.94L494.2 278.99M452.8 299.75L504.55 273.8M556.3 299.75L504.55 273.8M452.8 299.75L452.8 236.45M556.3 299.75L556.3 236.45M463.15 294.56L463.15 231.26M545.95 294.56L545.95 231.26M473.5 289.37L473.5 226.07M535.6 289.37L535.6 226.07M483.85 284.18L483.85 220.88M525.25 284.18L525.25 220.88M494.2 278.99L494.2 215.69M514.9 278.99L514.9 215.69M504.55 273.8L504.55 210.5M504.55 273.8L504.55 210.5M452.8 287.09L504.55 261.14L556.3 287.09M452.8 261.77L504.55 235.82L556.3 261.77M452.8 236.45L504.55 210.5L556.3 236.45" stroke="#e3e3e3" stroke-width="0.6" fill="none"/>
<path d="M452.8 299.75L504.55 325.7L556.3 299.75" stroke="#333" stroke-width="0.9" fill="none"/>
<path d="M452.8 299.75L452.8 236.45" stroke="#aaa" stroke-width="0.9" fill="none"/>
<path d="M504.55 325.7l-1 2M504.55 325.7l1 2M494.2 320.51l-1 2M514.9 320.51l1 2M483.85 315.32l-1 2M525.25 315.32l1 2M473.5 310.13l-1 2M535.6 310.13l1 2M463.15 304.94l-1 2M545.95 304.94l1 2M452.8 299.75l-1 2M556.3 299.75l1 2M452.8 287.09l-1.5 0M452.8 261.77l-1.5 0M452.8 236.45l-1.5 0" stroke="#333" stroke-width="0.6" fill="none"/>
<path d="M504.55 232.1L494.2 224.55L504.55 218.35L514.9 225.94Z" fill="rgb(8, 66, 135)" stroke="#161616" stroke-width="0.8" stroke-linejoin="round"/>
<path d="M514.9 241.11L504.55 232.1L514.9 225.94L525.25 235.06Z" fill="rgb(12, 85, 163)" stroke="#161616" stroke-width="0.8" stroke-linejoin="round"/>
<path d="M494.2 238.23L483.85 230.75L494.2 224.55L504.55 232.1Z" fill="rgb(8, 71, 143)" stroke="#161616" stroke-width="0.8" stroke-linejoin="round"/>
<path d="M525.25 251.56L514.9 241.11L525.25 235.06L535.6 245.06Z" fill="rgb(33, 113, 188)" stroke="#161616" stroke-width="0.8" stroke-linejoin="round"/>
<path d="M504.55 247.09L494.2 238.23L504.55 232.1L514.9 241.11Z" fill="rgb(15, 90, 167)" stroke="#161616" stroke-width="0.8" stroke-linejoin="round"/>
<path d="M483.85 244.82L473.5 237.08L483.85 230.75L494.2 238.23Z" fill="rgb(8, 78, 154)" stroke="#161616" stroke-width="0.8" stroke-linejoin="round"/>
<path d="M535.6 263.23L525.25 251.56L535.6 245.06L545.95 255.95Z" fill="rgb(70, 149, 209)" stroke="#161616" stroke-width="0.8" stroke-linejoin="round"/>
<path d="M514.9 257.95L504.55 247.09L514.9 241.11L525.25 251.56Z" fill="rgb(39, 120, 192)" stroke="#161616" stroke-width="0.8" stroke-linejoin="round"/>
<path d="M494.2 253.94L483.85 244.82L494.2 238.23L504.55 247.09Z" fill="rgb(21, 98, 176)" stroke="#161616" stroke-width="0.8" stroke-linejoin="round"/>
<path d="M473.5 251.72L463.15 243.92L473.5 237.08L483.85 244.82Z" fill="rgb(13, 87, 164)" stroke="#161616" stroke-width="0.8" stroke-linejoin="round"/>
<path d="M545.95 279.11L535.6 263.23L545.95 255.95L556.3 270.76Z" fill="rgb(161, 204, 232)" stroke="#161616" stroke-width="0.8" stroke-linejoin="round"/>
<path d="M525.25 270.33L514.9 257.95L525.25 251.56L535.6 263.23Z" fill="rgb(83, 158, 214)" stroke="#161616" stroke-width="0.8" stroke-linejoin="round"/>
<path d="M504.55 265.85L494.2 253.94L504.55 247.09L514.9 257.95Z" fill="rgb(53, 135, 201)" stroke="#161616" stroke-width="0.8" stroke-linejoin="round"/>
<path d="M483.85 260.9L473.5 251.72L483.85 244.82L494.2 253.94Z" fill="rgb(28, 107, 184)" stroke="#161616" stroke-width="0.8" stroke-linejoin="round"/>
<path d="M463.15 258.35L452.8 250.25L463.15 243.92L473.5 251.72Z" fill="rgb(18, 94, 172)" stroke="#161616" stroke-width="0.8" stroke-linejoin="round"/>
<path d="M535.6 287.22L525.25 270.33L535.6 263.23L545.95 279.11Z" fill="rgb(183, 213, 237)" stroke="#161616" stroke-width="0.8" stroke-linejoin="round"/>
<path d="M514.9 279.75L504.55 265.85L514.9 257.95L525.25 270.33Z" fill="rgb(119, 181, 224)" stroke="#161616" stroke-width="0.8" stroke-linejoin="round"/>
<path d="M494.2 273.58L483.85 260.9L494.2 253.94L504.55 265.85Z" fill="rgb(69, 148, 209)" stroke="#161616" stroke-width="0.8" stroke-linejoin="round"/>
<path d="M473.5 267.85L463.15 258.35L473.5 251.72L483.85 260.9Z" fill="rgb(37, 117, 191)" stroke="#161616" stroke-width="0.8" stroke-linejoin="round"/>
<path d="M525.25 298.99L514.9 279.75L525.25 270.33L535.6 287.22Z" fill="rgb(220, 233, 246)" stroke="#161616" stroke-width="0.8" stroke-linejoin="round"/>
<path d="M504.55 288.71L494.2 273.58L504.55 265.85L514.9 279.75Z" fill="rgb(155, 201, 231)" stroke="#161616" stroke-width="0.8" stroke-linejoin="round"/>
<path d="M483.85 281.64L473.5 267.85L483.85 260.9L494.2 273.58Z" fill="rgb(90, 163, 217)" stroke="#161616" stroke-width="0.8" stroke-linejoin="round"/>
<path d="M514.9 310.26L504.55 288.71L514.9 279.75L525.25 298.99Z" fill="rgb(247, 251, 255)" stroke="#161616" stroke-width="0.8" stroke-linejoin="round"/>
<path d="M494.2 298.48L483.85 281.64L494.2 273.58L504.55 288.71Z" fill="rgb(190, 216, 239)" stroke="#161616" stroke-width="0.8" stroke-linejoin="round"/>
<g class="tk"><text x="499.95" y="335.5" text-anchor="middle">0</text><text x="510.95" y="335.5" text-anchor="middle">0</text><text x="489.6" y="330.31" text-anchor="middle">1</text><text x="521.3" y="330.31" text-anchor="middle">1</text><text x="479.25" y="325.12" text-anchor="middle">2</text><text x="531.65" y="325.12" text-anchor="middle">2</text><text x="468.9" y="319.93" text-anchor="middle">3</text><text x="542" y="319.93" text-anchor="middle">3</text><text x="458.55" y="314.74" text-anchor="middle">4</text><text x="552.35" y="314.74" text-anchor="middle">4</text><text x="448.2" y="309.55" text-anchor="middle">5</text><text x="562.7" y="309.55" text-anchor="middle">5</text><text x="450" y="290.89" text-anchor="end">0.6</text><text x="450" y="265.57" text-anchor="end">0.8</text><text x="448" y="240.25" text-anchor="end">1</text></g>
<text class="al" transform="translate(471.55 332.6) rotate(26.6)" x="0" y="3.8" text-anchor="middle">lfp count</text>
<text class="al" transform="translate(544.65 331.9) rotate(-26.6)" x="0" y="3.8" text-anchor="middle">spike count</text>
<text class="ti" x="508" y="205.4" text-anchor="middle">baseline rate: 70 Hz</text>
<text class="al" transform="translate(6.5 266.6) rotate(-90)" x="0" y="3.8" text-anchor="middle">AUC</text>
<text class="ti" x="0.5" y="9.2">A)</text>
<text class="ti" x="0.5" y="205.6">B)</text>
<path d="M175.7 165.7H411" stroke="#5a5a5a" stroke-width="1.3"/>
<path d="M417.2 165.7L409.6 161.7L411.6 165.7L409.6 169.7Z" fill="#111"/>
<path d="M175.7 363.8H411" stroke="#5a5a5a" stroke-width="1.3"/>
<path d="M417.2 363.8L409.6 359.8L411.6 363.8L409.6 367.8Z" fill="#111"/>
<text class="ar" x="286" y="183.4" text-anchor="middle">increasing lfp noise</text>
<text class="ar" x="292.6" y="381.1" text-anchor="middle">increasing spike noise</text>
</svg></body></html>
